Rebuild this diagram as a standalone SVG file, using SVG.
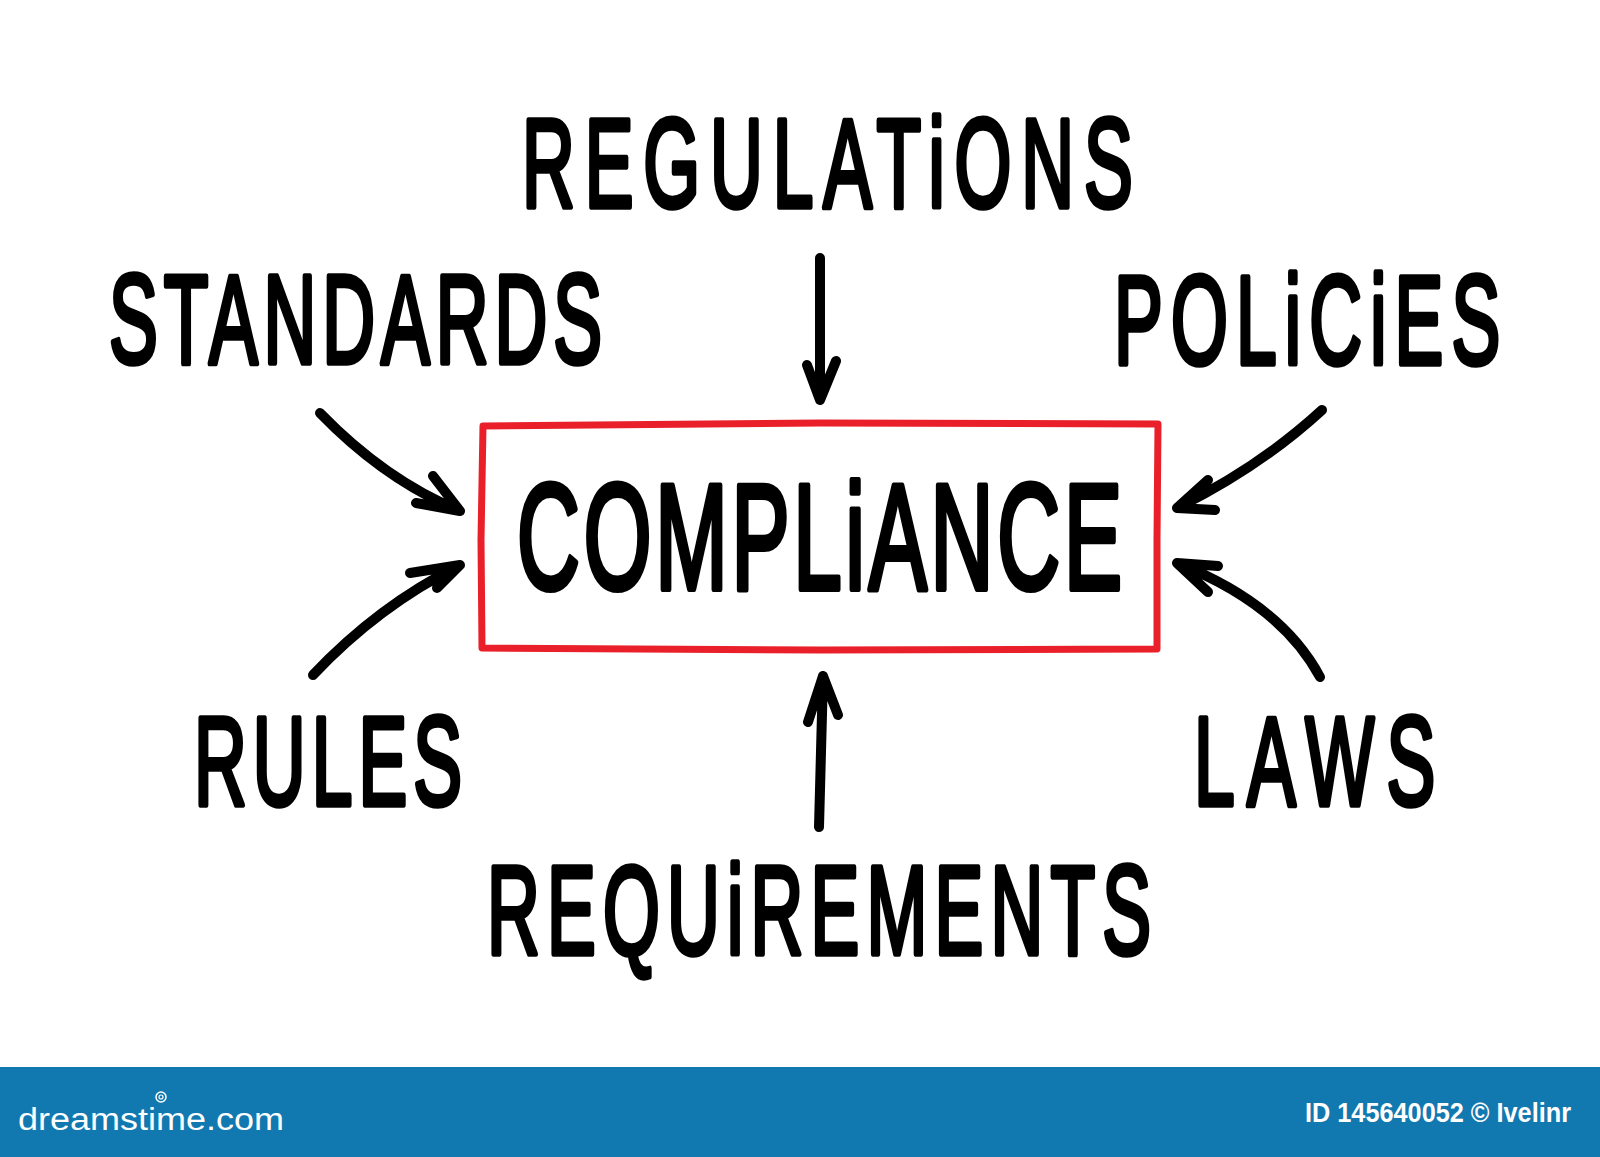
<svg xmlns="http://www.w3.org/2000/svg" width="1600" height="1157" viewBox="0 0 1600 1157">
<style>
.lbl{font-family:"Liberation Sans",Arial,sans-serif;font-size:126px;fill:#000;stroke:#000;stroke-width:4.5;stroke-linejoin:round;stroke-linecap:round;vector-effect:non-scaling-stroke}
.big{font-size:150px;stroke-width:5}
.arr{fill:none;stroke:#000;stroke-width:10;stroke-linecap:round;stroke-linejoin:round}
.foot{font-family:"Liberation Sans",Arial,sans-serif;fill:#fff}
</style>
<rect width="1600" height="1157" fill="#fff"/>
<g id="compliance">
<path d="M483 426 L820 423 L1158 424 L1157 540 L1157 649 L820 650 L482 648 L481 540 Z" fill="none" stroke="#e9202a" stroke-width="7" stroke-linejoin="round"/>
<text class="lbl big" transform="translate(517 589) scale(0.58 1)" textLength="1043" lengthAdjust="spacing">COMPLiANCE</text>
</g>
<g id="regulations"><text class="lbl" transform="translate(522 207) scale(0.58 1)" textLength="1053" lengthAdjust="spacing">REGULATiONS</text></g>
<g id="standards"><text class="lbl" transform="translate(109 363) scale(0.58 1)" textLength="850" lengthAdjust="spacing">STANDARDS</text></g>
<g id="policies"><text class="lbl" transform="translate(1114 364) scale(0.58 1)" textLength="666" lengthAdjust="spacing">POLiCiES</text></g>
<g id="rules"><text class="lbl" transform="translate(194 805) scale(0.58 1)" textLength="462" lengthAdjust="spacing">RULES</text></g>
<g id="laws"><text class="lbl" transform="translate(1194 805) scale(0.58 1)" textLength="416" lengthAdjust="spacing">LAWS</text></g>
<g id="requirements"><text class="lbl" transform="translate(487 954) scale(0.58 1)" textLength="1145" lengthAdjust="spacing">REQUiREMENTS</text></g>
<g id="connectors">
<path class="arr" d="M820 258 L820 400 M807 365 L820 400 L836 361"/>
<path class="arr" d="M819 827 L823 676 M808 722 L823 676 L838 715"/>
<path class="arr" d="M320 413 Q385 480 460 511 M433 476 L460 511 L416 503"/>
<path class="arr" d="M313 675 Q378 606 460 565 M410 573 L460 565 L437 588"/>
<path class="arr" d="M1322 410 Q1260 467 1177 508 M1208 480 L1177 508 L1215 510"/>
<path class="arr" d="M1320 677 Q1281 604 1177 563 M1218 566 L1177 563 L1208 592"/>
</g>
<g id="footer">
<rect x="0" y="1067" width="1600" height="90" fill="#1179b0"/>
<text class="foot" x="18" y="1130" font-size="31" textLength="266" lengthAdjust="spacingAndGlyphs">dreamstime.com</text>
<circle cx="161" cy="1097" r="5" fill="none" stroke="#fff" stroke-width="1.5"/>
<circle cx="161" cy="1097" r="2" fill="none" stroke="#fff" stroke-width="1.2"/>
<text class="foot" x="1305" y="1122" font-size="27" font-weight="bold" textLength="266" lengthAdjust="spacingAndGlyphs">ID 145640052 © Ivelinr</text>
</g>
</svg>
